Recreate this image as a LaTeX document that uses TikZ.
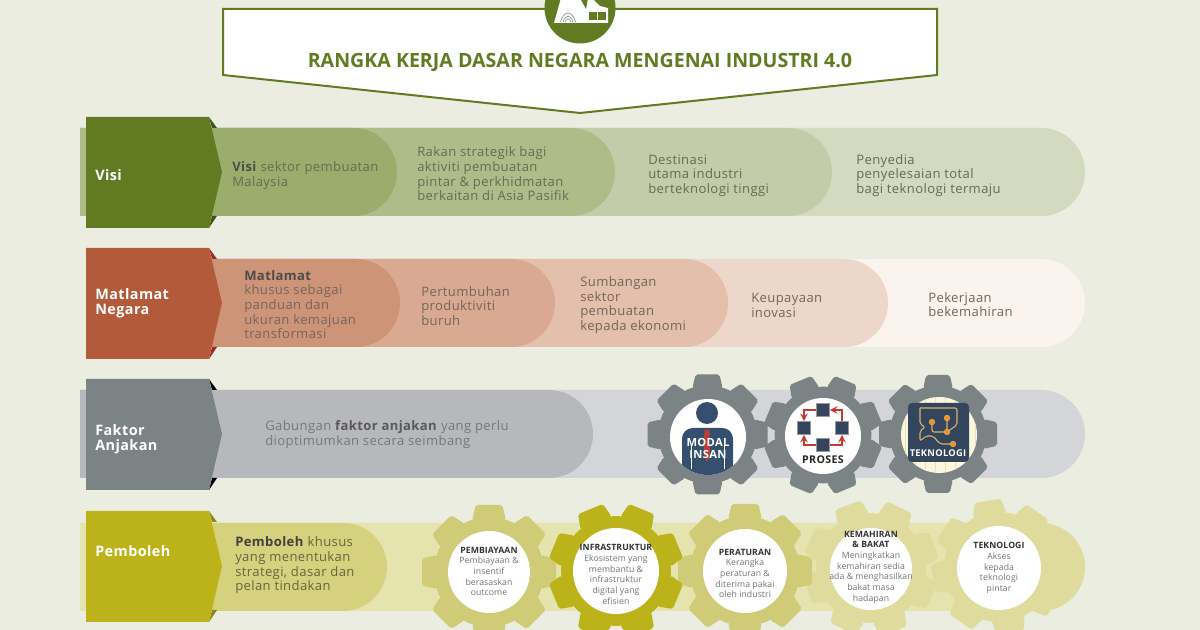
\documentclass[tikz,border=0pt]{standalone}
\usepackage{fontspec}
\setmainfont{Open Sans}[LetterSpace=3]
\newfontfamily\titlefont{Open Sans}
\newfontfamily\gearfont{Open Sans}[LetterSpace=1]
\usepackage{tikz}
\definecolor{paper}{HTML}{EAEDE0}
\definecolor{visidark}{HTML}{627B22}
\definecolor{visitip}{HTML}{3F5415}
\definecolor{visione}{HTML}{9AAD6C}
\definecolor{visitwo}{HTML}{AEBC8A}
\definecolor{visithree}{HTML}{C2CCA8}
\definecolor{visifour}{HTML}{D3DABF}
\definecolor{visitext}{HTML}{636D55}
\definecolor{goaldark}{HTML}{B35A3A}
\definecolor{goaltip}{HTML}{A0262A}
\definecolor{goalone}{HTML}{CE9477}
\definecolor{goaltwo}{HTML}{D9AA91}
\definecolor{goalthree}{HTML}{E3BFAC}
\definecolor{goalfour}{HTML}{EDD7CA}
\definecolor{goalfive}{HTML}{FAF3EE}
\definecolor{goaltext}{HTML}{75655B}
\definecolor{forcedark}{HTML}{7C8384}
\definecolor{forceone}{HTML}{B6B8BC}
\definecolor{forcetwo}{HTML}{D4D5D8}
\definecolor{forcetext}{HTML}{74787D}
\definecolor{enabledark}{HTML}{BCB31A}
\definecolor{enabletip}{HTML}{8E8A10}
\definecolor{enableone}{HTML}{D6D17C}
\definecolor{enabletwo}{HTML}{E5E3AE}
\definecolor{enablegear}{HTML}{CFCB77}
\definecolor{enablepale}{HTML}{DEDB9C}
\definecolor{enabletext}{HTML}{66653F}
\definecolor{slateblue}{HTML}{35506F}
\definecolor{slatedark}{HTML}{34455E}
\definecolor{circuit}{HTML}{D9B36A}
\definecolor{cream}{HTML}{FBF6E0}
\definecolor{arrowred}{HTML}{C23B33}
\tikzset{
  headtext/.style={anchor=west,inner sep=0pt,align=left,text=white,
    font=\fontsize{10.8}{11.2}\selectfont\bfseries},
  bodytext/.style={anchor=west,inner sep=0pt,align=left,
    font=\fontsize{9.8}{11}\selectfont},
  geartext/.style={inner sep=0pt,align=center,text=black!55,
    font=\gearfont\fontsize{6.5}{8}\selectfont},
  iconsquare/.style={draw=black!40,line width=0.8pt,fill=slatedark,
    minimum size=9.5pt,inner sep=0pt},
  procarrow/.style={draw=arrowred,line width=1.5pt,-stealth},
  iconlabel/.style={inner sep=0pt,align=center,
    font=\fontsize{8.4}{9.6}\selectfont\bfseries}
}
\newcommand{\rowbar}[4]{%
  \fill[#4,rounded corners=33pt] (#1,#2) -- (#3,#2) -- (#3,#2+88) -- (#1,#2+88);}
\newcommand{\rowhead}[3]{%
  \fill[#3] (209,#1) -- (217,#1+11) -- (212,#1+11) -- cycle;
  \fill[#3] (209,#1+111) -- (217,#1+99) -- (212,#1+99) -- cycle;
  \fill[#2] (86,#1) -- (209,#1) -- (222,#1+55) -- (209,#1+111) -- (86,#1+111) -- cycle;}
\newcommand{\gearwheel}[5]{%
  \foreach \ang in {0,45,...,315}
    \fill[#5,rounded corners=1.5pt,shift={(#1,#2)},rotate=\ang+#4]
      (-#3*0.25,-#3*0.78) -- (-#3*0.2,-#3) -- (#3*0.2,-#3) -- (#3*0.25,-#3*0.78) -- cycle;
  \fill[#5] (#1,#2) circle[radius=#3*0.82];}
\newcommand{\gearhead}[1]{\textcolor{black!80}{\textbf{#1}}}
\begin{document}
\begin{tikzpicture}[x=0.75pt,y=-0.75pt]
  \useasboundingbox (0,0) rectangle (1200,630);
  \clip (0,0) rectangle (1200,630);
  \fill[paper] (0,0) rectangle (1200,630);

  \filldraw[fill=white,draw=visidark,line width=1.5pt]
    (223,9) -- (937,9) -- (937,75) -- (580,113) -- (223,75) -- cycle;
  \fill[visidark] (580,8) circle[radius=35.5];
  \fill[white] (554,23) -- (561,-2) -- (608,-2) -- (608,23) -- cycle;
  \fill[visidark] (580,-2) -- (586,9) -- (588,-2) -- cycle;
  \fill[visidark] (592,-2) -- (600,6) -- (608,8) -- (612,-2) -- cycle;
  \fill[visidark] (589,12) rectangle (597,20);
  \fill[visidark] (598,12) rectangle (606,20);
  \foreach \rad in {3,5.5,8.5}
    \draw[black!50,line width=0.4pt] (568+\rad*0.9,22) .. controls (568+\rad*0.5,22-\rad*1.4) and (568-\rad*0.5,22-\rad*1.4) .. (568-\rad*0.9,22);
  \node (title) at (580,62) [text=visidark,inner sep=0pt]
    {\titlefont\fontsize{14.7}{16}\selectfont\bfseries RANGKA KERJA DASAR NEGARA MENGENAI INDUSTRI 4.0};

  \rowbar{80}{128}{1085}{visifour}
  \rowbar{80}{128}{832}{visithree}
  \rowbar{80}{128}{615}{visitwo}
  \rowbar{100}{128}{397}{visione}
  \rowhead{117}{visidark}{visitip}
  \node (visihead) at (95,175) [headtext] {Visi};
  \node (visia) at (232,175.5) [bodytext,text=visitext] {\textcolor{black!70}{\textbf{Visi}} sektor pembuatan\\Malaysia};
  \node (visib) at (417,174) [bodytext,text=visitext] {Rakan strategik bagi\\aktiviti pembuatan\\pintar \& perkhidmatan\\berkaitan di Asia Pasifik};
  \node (visic) at (648,175.5) [bodytext,text=visitext] {Destinasi\\utama industri\\berteknologi tinggi};
  \node (visid) at (856,175.5) [bodytext,text=visitext] {Penyedia\\penyelesaian total\\bagi teknologi termaju};

  \rowbar{90}{259}{1085}{goalfive}
  \rowbar{90}{259}{888}{goalfour}
  \rowbar{90}{259}{728}{goalthree}
  \rowbar{90}{259}{555}{goaltwo}
  \rowbar{90}{259}{400}{goalone}
  \rowhead{248}{goaldark}{goaltip}
  \node (goalhead) at (95,303.5) [headtext] {Matlamat\\Negara};
  \node (goala) at (244,304.5) [bodytext,text=goaltext] {\textcolor{black!70}{\textbf{Matlamat}}\\khusus sebagai\\panduan dan\\ukuran kemajuan\\transformasi};
  \node (goalb) at (421,306) [bodytext,text=goaltext] {Pertumbuhan\\produktiviti\\buruh};
  \node (goalc) at (580,305) [bodytext,text=goaltext] {Sumbangan\\sektor\\pembuatan\\kepada ekonomi};
  \node (goald) at (751,305.5) [bodytext,text=goaltext] {Keupayaan\\inovasi};
  \node (goale) at (928,304.5) [bodytext,text=goaltext] {Pekerjaan\\bekemahiran};

  \rowbar{80}{390}{1085}{forcetwo}
  \rowbar{80}{390}{593}{forceone}
  \rowhead{379}{forcedark}{black}
  \node (forcehead) at (95,439.5) [headtext] {Faktor\\Anjakan};
  \node (forcea) at (265,434.5) [bodytext,text=forcetext] {Gabungan \textcolor{black!65}{\textbf{faktor anjakan}} yang perlu\\dioptimumkan secara seimbang};

  \gearwheel{707.5}{434.5}{60}{0}{forcedark}
  \gearwheel{823}{435}{59}{22.5}{forcedark}
  \gearwheel{938}{434}{59}{0}{forcedark}
  \node (human) at (708,437) [circle,fill=white,minimum size=57pt,inner sep=0pt] {};
  \node (process) at (823,436) [circle,fill=white,minimum size=57pt,inner sep=0pt] {};
  \node (techcirc) at (939,435) [circle,fill=cream,minimum size=57pt,inner sep=0pt] {};

  \begin{scope}
    \clip (708,437) circle[radius=38];
    \fill[slateblue,rounded corners=8pt] (682,428) rectangle (733,490);
  \end{scope}
  \fill[slateblue] (707,413) circle[radius=11];
  \fill[arrowred] (704.5,430) -- (709.5,430) -- (710,455) -- (707,462) -- (704,455) -- cycle;
  \draw[white,line width=0.6pt] (691,445) -- (691,469);
  \draw[white,line width=0.6pt] (724,445) -- (724,469);
  \node (modal) at (708,448.5) [iconlabel,text=white] {MODAL\\INSAN};

  \node (ptop) at (823,410) [iconsquare] {};
  \node (pleft) at (804,428) [iconsquare] {};
  \node (pright) at (842,428) [iconsquare] {};
  \node (pbot) at (823,445) [iconsquare] {};
  \draw[procarrow] (ptop.west) -| (pleft.north);
  \draw[procarrow] (pright.north) |- (ptop.east);
  \draw[procarrow] (pbot.west) -| (pleft.south);
  \draw[procarrow] (pbot.east) -| (pright.south);
  \node (proses) at (823,460) [iconlabel,text=black!85,font=\fontsize{8}{9.6}\selectfont\bfseries] {PROSES};

  \begin{scope}
    \clip (939,435) circle[radius=38];
    \foreach \gx in {905,915,...,975}
      \draw[circuit!35!cream,line width=0.5pt] (\gx,397) -- (\gx,473);
  \end{scope}
  \fill[slatedark,rounded corners=3pt] (908,403) rectangle (969,462);
  \draw[circuit,line width=0.8pt,rounded corners=1.5pt]
    (920,408) -- (957,408) -- (957,425) -- (947,432) -- (947,418);
  \draw[circuit,line width=0.8pt,rounded corners=1.5pt]
    (947,432) -- (932,432) -- (932,422);
  \draw[circuit,line width=0.8pt,rounded corners=1.5pt]
    (920,408) -- (920,424) -- (925,427) -- (920,431) -- (920,441) -- (926,436) -- (933,436) -- (940,444) -- (953,444);
  \foreach \cx/\cy in {932/422,947/418,947/432,953/444}
    \filldraw[fill=orange!70!circuit,draw=circuit,line width=0.4pt] (\cx,\cy) circle[radius=2.8];
  \node (teknologi) at (938,453) [iconlabel,text=white,font=\fontsize{7}{9.6}\selectfont\bfseries] {TEKNOLOGI};

  \rowbar{80}{523}{1085}{enablepale}
  \fill[enabletwo] (80,523) rectangle (1042,611);
  \rowbar{100}{523}{387}{enableone}
  \rowhead{511}{enabledark}{enabletip}
  \node (enablehead) at (95,551) [headtext] {Pemboleh};
  \node (enablea) at (235,565.5) [bodytext,text=enabletext] {\textcolor{black!75}{\textbf{Pemboleh}} khusus\\yang menentukan\\strategi, dasar dan\\pelan tindakan};

  \gearwheel{999}{567}{67}{10}{enablepale}
  \gearwheel{871}{568}{67}{20}{enablepale}
  \gearwheel{745}{571}{67}{0}{enablegear}
  \gearwheel{489}{572}{67}{0}{enablegear}
  \gearwheel{616}{571}{67}{22.5}{enabledark}
  \fill[white] (489,572) circle[radius=41];
  \fill[white] (616,571) circle[radius=43];
  \fill[white] (745,571) circle[radius=42];
  \fill[white] (871,569) circle[radius=41];
  \fill[white] (999,568) circle[radius=42];
  \node (finance) at (489,571.5) [geartext] {\gearhead{PEMBIAYAAN}\\Pembiayaan \&\\insentif\\berasaskan\\outcome};
  \node (infra) at (616,574.5) [geartext] {\gearhead{INFRASTRUKTUR}\\Ekosistem yang\\membantu \&\\infrastruktur\\digital yang\\efisien};
  \node (rules) at (745,573.5) [geartext] {\gearhead{PERATURAN}\\Kerangka\\peraturan \&\\diterima pakai\\oleh industri};
  \node (skills) at (871,567) [geartext] {\gearhead{KEMAHIRAN}\\\gearhead{\& BAKAT}\\Meningkatkan\\kemahiran sedia\\ada \& menghasilkan\\bakat masa\\hadapan};
  \node (access) at (999,568) [geartext] {\gearhead{TEKNOLOGI}\\Akses\\kepada\\teknologi\\pintar};
\end{tikzpicture}
\end{document}
